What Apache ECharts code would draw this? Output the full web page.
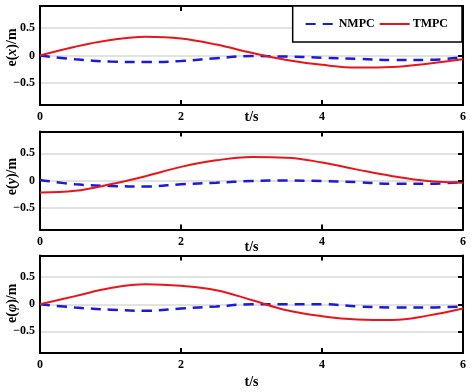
<!DOCTYPE html>
<html><head><meta charset="utf-8">
<script src="https://cdn.jsdelivr.net/npm/echarts@6/dist/echarts.min.js"></script>
<style>html,body{margin:0;padding:0;background:#fff}#c{width:474px;height:392px}</style>
</head><body><div id="c"></div>
<script>
const tVals = [0, 0.5, 1, 1.5, 2, 2.5, 3, 3.5, 4, 4.5, 5, 5.5, 6];
const xNMPC = [0, -0.07, -0.11, -0.12, -0.1, -0.05, -0.01, -0.02, -0.04, -0.06, -0.08, -0.08, -0.03];
const xTMPC = [0, 0.16, 0.28, 0.34, 0.31, 0.2, 0.05, -0.08, -0.17, -0.22, -0.21, -0.15, -0.07];
const yNMPC = [0.01, -0.07, -0.1, -0.11, -0.07, -0.04, -0.01, 0, -0.01, -0.03, -0.06, -0.06, -0.03];
const yTMPC = [-0.22, -0.19, -0.07, 0.08, 0.25, 0.37, 0.43, 0.42, 0.33, 0.2, 0.08, -0.01, -0.04];
const pNMPC = [0, -0.06, -0.1, -0.12, -0.08, -0.04, 0, 0, 0, -0.04, -0.06, -0.06, -0.04];
const pTMPC = [0, 0.15, 0.3, 0.37, 0.34, 0.26, 0.08, -0.11, -0.22, -0.28, -0.29, -0.21, -0.08];
const yNames = ['{a|e(}{b|x}{a|)/m}', '{a|e(}{b|y}{a|)/m}', '{a|e(}{b|φ}{a|)/m}'];
const xName = 't/s';
const seriesNames = ['NMPC', 'TMPC'];

const FONT = '"Liberation Serif", "Times New Roman", serif';
const BLUE = '#1a1ad8', RED = '#e8161b';
const grids = [
  {left: 40, right: 11, top: 6, height: 99, outerBoundsMode: 'none', containLabel: false},
  {left: 40, right: 11, top: 131.5, height: 98, outerBoundsMode: 'none', containLabel: false},
  {left: 40, right: 11, top: 255.5, height: 97.5, outerBoundsMode: 'none', containLabel: false}
];
const tNameGaps = [5, 10.5, 22];
const yNameShift = [16, 8, 2];
const panels = [[xNMPC, xTMPC], [yNMPC, yTMPC], [pNMPC, pTMPC]];
const pair = arr => tVals.map((t, i) => [t, arr[i]]);
const boxLine = {show: true, onZero: false, lineStyle: {color: '#000', width: 2}};

const xAxis = [], yAxis = [], series = [];
grids.forEach((g, i) => {
  xAxis.push({
    type: 'value', gridIndex: i, min: 0, max: 6, interval: 2, position: 'bottom',
    name: xName, nameLocation: 'middle', nameGap: tNameGaps[i], nameMoveOverlap: false,
    nameTextStyle: {fontFamily: FONT, fontWeight: 'bold', fontSize: 14, color: '#000', verticalAlign: 'top'},
    axisLine: boxLine,
    axisTick: {show: true, inside: true, length: 5, lineStyle: {color: '#000', width: 2}},
    axisLabel: {fontFamily: FONT, fontWeight: 'bold', fontSize: 12, color: '#000', margin: 6},
    splitLine: {show: false}
  });
  xAxis.push({
    type: 'value', gridIndex: i, min: 0, max: 6, interval: 2, position: 'top',
    axisLine: boxLine,
    axisTick: {show: true, inside: true, length: 5, lineStyle: {color: '#000', width: 2}},
    axisLabel: {show: false}, splitLine: {show: false}
  });
  yAxis.push({
    type: 'value', gridIndex: i, min: -0.9, max: 0.9, splitNumber: 4, position: 'left',
    name: yNames[i], nameLocation: 'middle', nameGap: 21, nameRotate: 90, nameMoveOverlap: false,
    nameTextStyle: {color: '#000', padding: [0, 0, 0, yNameShift[i]], rich: {
      a: {fontFamily: FONT, fontWeight: 'bold', fontSize: 14, color: '#000'},
      b: {fontFamily: FONT, fontWeight: 'bold', fontStyle: 'italic', fontSize: 14, color: '#000'}
    }},
    axisLine: boxLine,
    axisTick: {show: false},
    axisLabel: {fontFamily: FONT, fontWeight: 'bold', fontSize: 12, color: '#000', margin: 5,
      showMinLabel: false, showMaxLabel: false,
      formatter: v => (v < 0 ? '\u2212' + String(Math.abs(v)) : String(v))},
    splitLine: {show: true, showMinLine: false, showMaxLine: false, lineStyle: {color: '#d8d8d8', width: 1.5}}
  });
  yAxis.push({
    type: 'value', gridIndex: i, min: -0.9, max: 0.9, splitNumber: 4, position: 'right',
    axisLine: boxLine,
    axisTick: {show: true, inside: true, length: 5, lineStyle: {color: '#000', width: 2}},
    axisLabel: {show: false}, splitLine: {show: false}
  });
  const [nm, tm] = panels[i];
  series.push({
    name: seriesNames[0], type: 'line', xAxisIndex: 2 * i, yAxisIndex: 2 * i,
    data: pair(nm), smooth: 0.4, symbol: 'none', z: 3,
    lineStyle: {color: BLUE, width: 2.5, type: [10, 7]}, itemStyle: {color: BLUE}
  });
  series.push({
    name: seriesNames[1], type: 'line', xAxisIndex: 2 * i, yAxisIndex: 2 * i,
    data: pair(tm), smooth: 0.4, symbol: 'none', z: 4,
    lineStyle: {color: RED, width: 2}, itemStyle: {color: RED}
  });
});

const chart = echarts.init(document.getElementById('c'), null, {renderer: 'canvas'});
chart.setOption({
  animation: false,
  backgroundColor: '#fff',
  grid: grids,
  xAxis, yAxis, series,
  legend: {
    data: seriesNames, right: 12, top: 6,
    backgroundColor: '#fff', borderColor: '#000', borderWidth: 1.5,
    padding: [12, 14, 12, 12], itemGap: 4, itemWidth: 30, itemHeight: 14,
    itemStyle: {opacity: 0},
    textStyle: {fontFamily: FONT, fontWeight: 'bold', fontSize: 12, color: '#000', padding: [0, 0, 0, -2]}
  }
});
</script></body></html>
